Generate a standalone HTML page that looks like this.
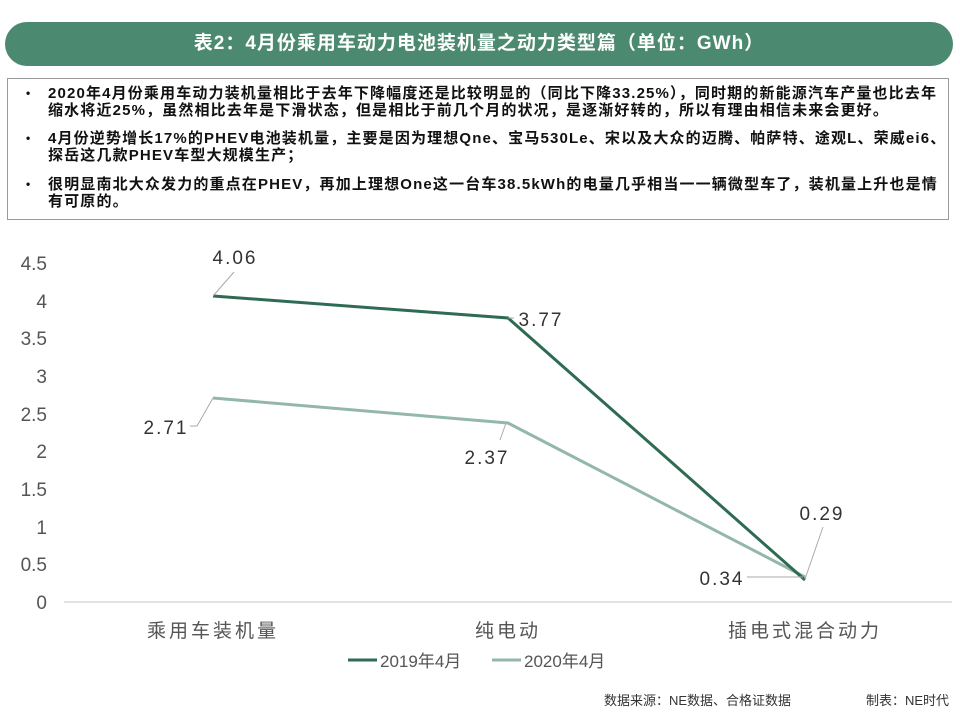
<!DOCTYPE html><html><head><meta charset="utf-8"><style>
body{margin:0;width:960px;height:720px;background:#fff;overflow:hidden;position:relative;font-family:"Liberation Sans","Noto Sans CJK SC",sans-serif}
.title{position:absolute;left:5px;top:22px;width:948px;height:44px;border-radius:22px;background:#4b8a70;color:#fff;font-size:19px;font-weight:bold;text-align:center;line-height:44px;letter-spacing:1px}
.box{position:absolute;left:7px;top:78px;width:942px;height:142px;border:1px solid #999;box-sizing:border-box;font-size:15px;font-weight:bold;color:#111;line-height:17px;white-space:nowrap}
.box p{margin:0;position:absolute;left:40px;letter-spacing:1.15px}
.box b{position:absolute;left:-22px;font-size:12px}
</style></head><body>
<div class="title">表2：4月份乘用车动力电池装机量之动力类型篇（单位：GWh）</div>
<div class="box">
<p style="top:6px">2020年4月份乘用车动力装机量相比于去年下降幅度还是比较明显的（同比下降33.25%），同时期的新能源汽车产量也比去年<br>缩水将近25%，虽然相比去年是下滑状态，但是相比于前几个月的状况，是逐渐好转的，所以有理由相信未来会更好。<b style="top:0">•</b></p>
<p style="top:51px">4月份逆势增长17%的PHEV电池装机量，主要是因为理想Qne、宝马530Le、宋以及大众的迈腾、帕萨特、途观L、荣威ei6、<br>探岳这几款PHEV车型大规模生产；<b style="top:0">•</b></p>
<p style="top:97px">很明显南北大众发力的重点在PHEV，再加上理想One这一台车38.5kWh的电量几乎相当一一辆微型车了，装机量上升也是情<br>有可原的。<b style="top:0">•</b></p>
</div>
<svg width="960" height="720" style="position:absolute;left:0;top:0" font-family="Liberation Sans, Noto Sans CJK SC, sans-serif">
<g font-size="19" fill="#555" text-anchor="end">
<text x="47" y="270">4.5</text><text x="47" y="308">4</text><text x="47" y="345">3.5</text><text x="47" y="383">3</text><text x="47" y="421">2.5</text><text x="47" y="458">2</text><text x="47" y="496">1.5</text><text x="47" y="534">1</text><text x="47" y="571">0.5</text><text x="47" y="609">0</text>
</g>
<line x1="64" y1="602" x2="952" y2="602" stroke="#d9d9d9" stroke-width="1.5"/>
<polyline points="213,398 508,423 805,577" fill="none" stroke="#93b8aa" stroke-width="3"/>
<polyline points="213,296 508,318 805,580" fill="none" stroke="#2f6b52" stroke-width="3"/>
<g stroke="#aaa" stroke-width="1" fill="none">
<polyline points="213,296 234,272"/><polyline points="190,426 197,426 213,398"/>
<polyline points="508,318 514,318"/><polyline points="506,423 500,440"/>
<polyline points="805,579 823,527"/><polyline points="747,577 803,577"/>
</g>
<g font-size="19" fill="#333" text-anchor="middle" letter-spacing="2">
<text x="235" y="264">4.06</text><text x="166" y="434">2.71</text><text x="541" y="326">3.77</text><text x="487" y="464">2.37</text><text x="822" y="520">0.29</text><text x="722" y="585">0.34</text>
</g>
<g font-size="19" fill="#555" text-anchor="middle" letter-spacing="3">
<text x="213" y="637">乘用车装机量</text><text x="508" y="637">纯电动</text><text x="805" y="637">插电式混合动力</text>
</g>
<line x1="348" y1="660" x2="377" y2="660" stroke="#2f6b52" stroke-width="3"/>
<text x="380" y="667" font-size="17" fill="#555">2019年4月</text>
<line x1="492" y1="660" x2="521" y2="660" stroke="#93b8aa" stroke-width="3"/>
<text x="524" y="667" font-size="17" fill="#555">2020年4月</text>
<text x="604" y="705" font-size="13" fill="#333">数据来源：NE数据、合格证数据</text>
<text x="866" y="705" font-size="13" fill="#333">制表：NE时代</text>
</svg>
</body></html>
